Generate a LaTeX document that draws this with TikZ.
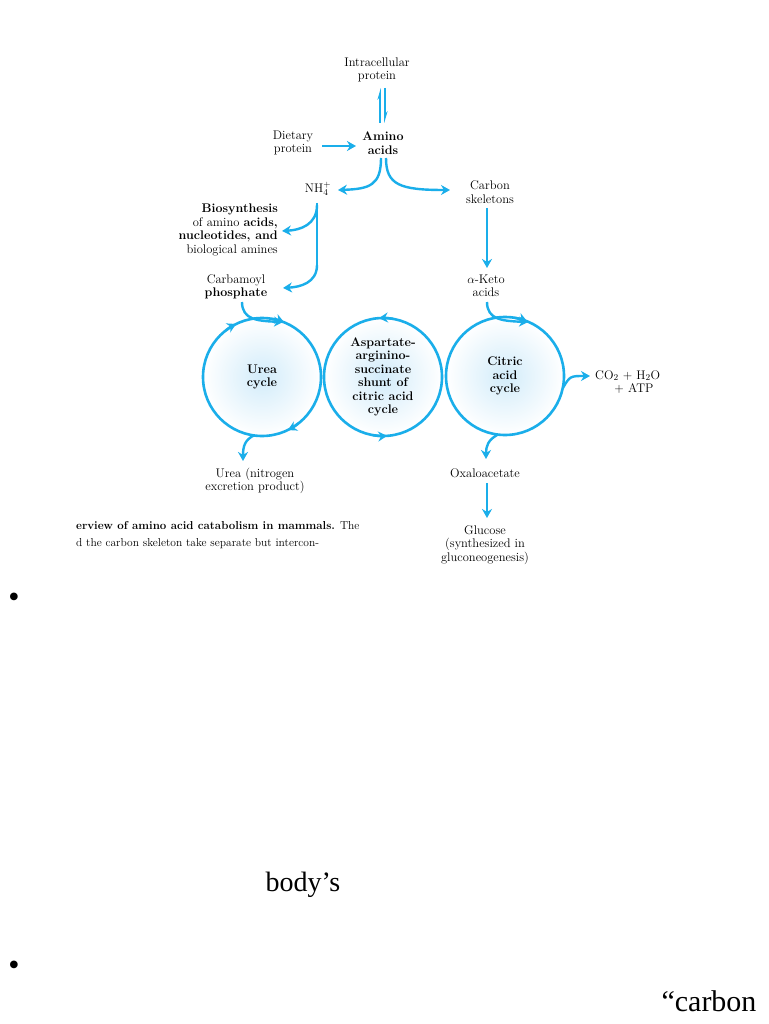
\documentclass[tikz,border=0pt]{standalone}
\usepackage{fontspec}
\newfontfamily\tnr{Liberation Serif}
\usetikzlibrary{arrows.meta}
\definecolor{cy}{HTML}{1AAEEA}
\definecolor{lb}{HTML}{D2ECFA}
\begin{document}
\begin{tikzpicture}[x=1pt,y=-1pt,
  lab/.style={font=\fontsize{12.5}{13.5}\selectfont,align=center,inner sep=1pt},
  ar/.style={cy,line width=2.4pt,-{Stealth[length=9pt,width=10pt]}},
  ln/.style={cy,line width=2.4pt},
  cyc/.style={circle,draw=cy,line width=2.6pt,minimum size=118pt,inner color=lb,outer color=white,align=center,font=\fontsize{12.5}{13.5}\selectfont\bfseries}]
\useasboundingbox[fill=white] (0,0) rectangle (768,1024);
\node[lab] (ip) at (377,70) {Intracellular\\protein};
\node[lab] (dp) at (293,143) {Dietary\\protein};
\node[lab,font=\fontsize{12.5}{13.5}\selectfont\bfseries] (aa) at (383,143) {Amino\\acids};
\node[lab] (nh) at (318,189) {NH$_4^+$};
\node[lab] (cs) at (490,192) {Carbon\\skeletons};
\node[lab,align=right,anchor=east] (bio) at (279,230) {\textbf{Biosynthesis}\\of amino \textbf{acids,}\\\textbf{nucleotides, and}\\biological amines};
\node[lab] (cp) at (236,287) {Carbamoyl\\\textbf{phosphate}};
\node[lab] (ka) at (486,286) {$\alpha$-Keto\\acids};
\node[cyc] (uc) at (262,377) {Urea\\cycle};
\node[cyc] (sh) at (383,377) {Aspartate-\\arginino-\\succinate\\shunt of\\citric acid\\cycle};
\node[cyc] (cc) at (505,376) {Citric\\acid\\cycle};
\node[lab,anchor=west] (co) at (594,382) {CO$_2$ + H$_2$O\\\quad+ ATP};
\node[lab] (ur) at (255,481) {Urea (nitrogen\\excretion product)};
\node[lab] (ox) at (485,473) {Oxaloacetate};
\node[lab] (gl) at (485,545) {Glucose\\(synthesized in\\gluconeogenesis)};
% double harpoons
\draw[ln,-{Stealth[left,length=9pt,width=5pt]}] (380,123) -- (380,88);
\draw[ln,-{Stealth[left,length=9pt,width=5pt]}] (385,88) -- (385,123);
\draw[ar] (322,146) -- (356,146);
\draw[ar] (381,158) .. controls (381,185) and (370,189) .. (338,190);
\draw[ar] (386,158) .. controls (386,185) and (400,190) .. (450,190);
\draw[ln] (317,203) -- (317,270);
\draw[ar] (317,205) .. controls (317,225) and (300,230) .. (282,231);
\draw[ar] (317,265) .. controls (317,283) and (300,287) .. (283,288);
\draw[ar] (487,208) -- (487,268);
\draw[ar] (242,302) .. controls (242,320) and (258,321) .. (283,322);
\draw[ar] (487,302) .. controls (487,320) and (503,321) .. (528,322);
% cycle arrow marks (increasing angle = clockwise on screen)
\draw[ar] (uc.center) ++(-128:59) arc[start angle=-128,end angle=-116,radius=59];
\draw[ar] (uc.center) ++(-80:59) arc[start angle=-80,end angle=-68,radius=59];
\draw[ar] (uc.center) ++(52:59) arc[start angle=52,end angle=64,radius=59];
\draw[ar] (sh.center) ++(-80:59) arc[start angle=-80,end angle=-94,radius=59];
\draw[ar] (sh.center) ++(100:59) arc[start angle=100,end angle=86,radius=59];
\draw[ar] (cc.center) ++(-80:59) arc[start angle=-80,end angle=-68,radius=59];
\draw[ar] (cc.center) ++(12:59) .. controls (570,376) .. (590,376);
\draw[ar] (uc.center) ++(98:59) .. controls (245,440) and (243,446) .. (243,461);
\draw[ar] (cc.center) ++(97:59) .. controls (488,440) and (486,446) .. (486,459);
\draw[ar] (487,483) -- (487,518);
\node[lab,anchor=west,inner sep=0pt,font=\fontsize{11.5}{12}\selectfont] (cap1) at (76,526) {\textbf{erview of amino acid catabolism in mammals.} The};
\node[lab,anchor=west,inner sep=0pt,font=\fontsize{11.5}{12}\selectfont] (cap2) at (76,544) {d the carbon skeleton take separate but intercon-};
\node[font=\tnr\fontsize{32}{32}\selectfont] (b1) at (14,600) {•};
\node[font=\tnr\fontsize{32}{32}\selectfont] (b2) at (14,968) {•};
\node[font=\tnr\fontsize{28}{30}\selectfont] (bo) at (303,885) {body’s};
\node[font=\tnr\fontsize{30}{30}\selectfont,anchor=west] (cb) at (658,1001) {“carbon};
\end{tikzpicture}
\end{document}
